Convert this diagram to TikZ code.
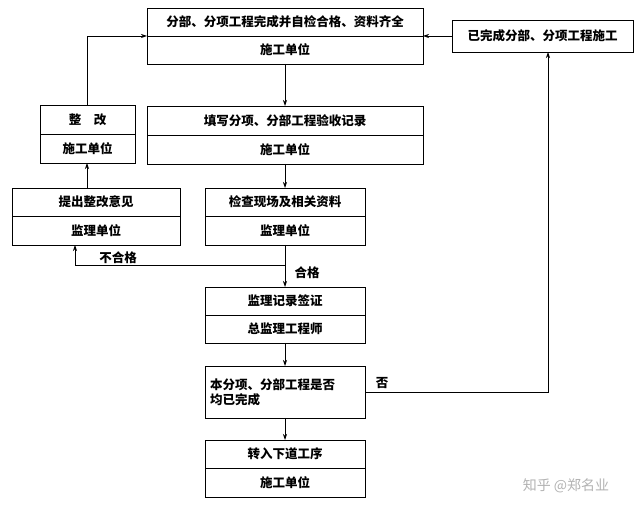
\documentclass[tikz,border=0pt]{standalone}
\usepackage{fontspec}
\setmainfont{Noto Sans CJK SC}
\usetikzlibrary{arrows.meta}
\begin{document}
\begin{tikzpicture}[x=1pt,y=-1pt,font=\fontsize{12.5}{15}\selectfont\bfseries,
 bx/.style={draw,line width=0.8pt},
 ar/.style={-{Stealth[length=6pt,width=4pt]},line width=0.7pt}]
\useasboundingbox (0,0) rectangle (640,510);
\newcommand\twobox[7]{%
 \draw[bx] (#2,#3) rectangle (#4,#5); \draw[bx] (#2,#6) -- (#4,#6);
 \node (#1) [minimum width={#4-#2},minimum height={#5-#3}] at ({(#2+#4)/2},{(#3+#5)/2}) {};
 \node (#1t) at ({(#2+#4)/2},{(#3+#6)/2}) {#7};}
\twobox{A}{147}{8}{423}{64}{36}{分部、分项工程完成并自检合格、资料齐全}
\node at (285,50) {施工单位};
\draw[bx] (452,20) rectangle (633,52); \node (B) [minimum width=181,minimum height=32] at (542.5,36) {已完成分部、分项工程施工};
\twobox{C}{147}{106}{423}{164}{135}{填写分项、分部工程验收记录}
\node at (285,150) {施工单位};
\twobox{D}{205}{188}{365}{245}{216}{检查现场及相关资料}
\node at (285,231) {监理单位};
\twobox{E}{40}{105}{135}{163}{134}{整\quad 改}
\node at (87.5,149) {施工单位};
\twobox{F}{12}{188}{180}{245}{216}{提出整改意见}
\node at (96,231) {监理单位};
\twobox{G}{205}{287}{365}{343}{315}{监理记录签证}
\node at (285,329) {总监理工程师};
\draw[bx] (205,366) rectangle (365,418);
\node (H) [minimum width=160,minimum height=52,align=left,text width=150] at (285,392) {本分项、分部工程是否\\均已完成};
\twobox{I}{205}{440}{365}{497}{468}{转入下道工序}
\node at (285,483) {施工单位};
\coordinate (J) at (285,265);
\draw[ar] (285,64) -- (285,106);
\draw[ar] (285,164) -- (285,188);
\draw[ar] (285,245) -- (285,287);
\draw[ar] (J) -- (75,265) -- (75,245);
\draw[ar] (87,188) -- (87,163);
\draw[ar] (87,105) -- (87,36) -- (147,36);
\draw[ar] (285,343) -- (285,366);
\draw[ar] (285,418) -- (285,440);
\draw[ar] (365,392) -- (548,392) -- (548,52);
\draw[ar] (452,36) -- (423,36);
\node at (307,273) {合格};
\node at (118,258) {不合格};
\node at (382,383) {否};
\node[text=gray!60,font=\fontsize{14}{16}\selectfont] at (566,486) {知乎 @郑名业};
\end{tikzpicture}
\end{document}
